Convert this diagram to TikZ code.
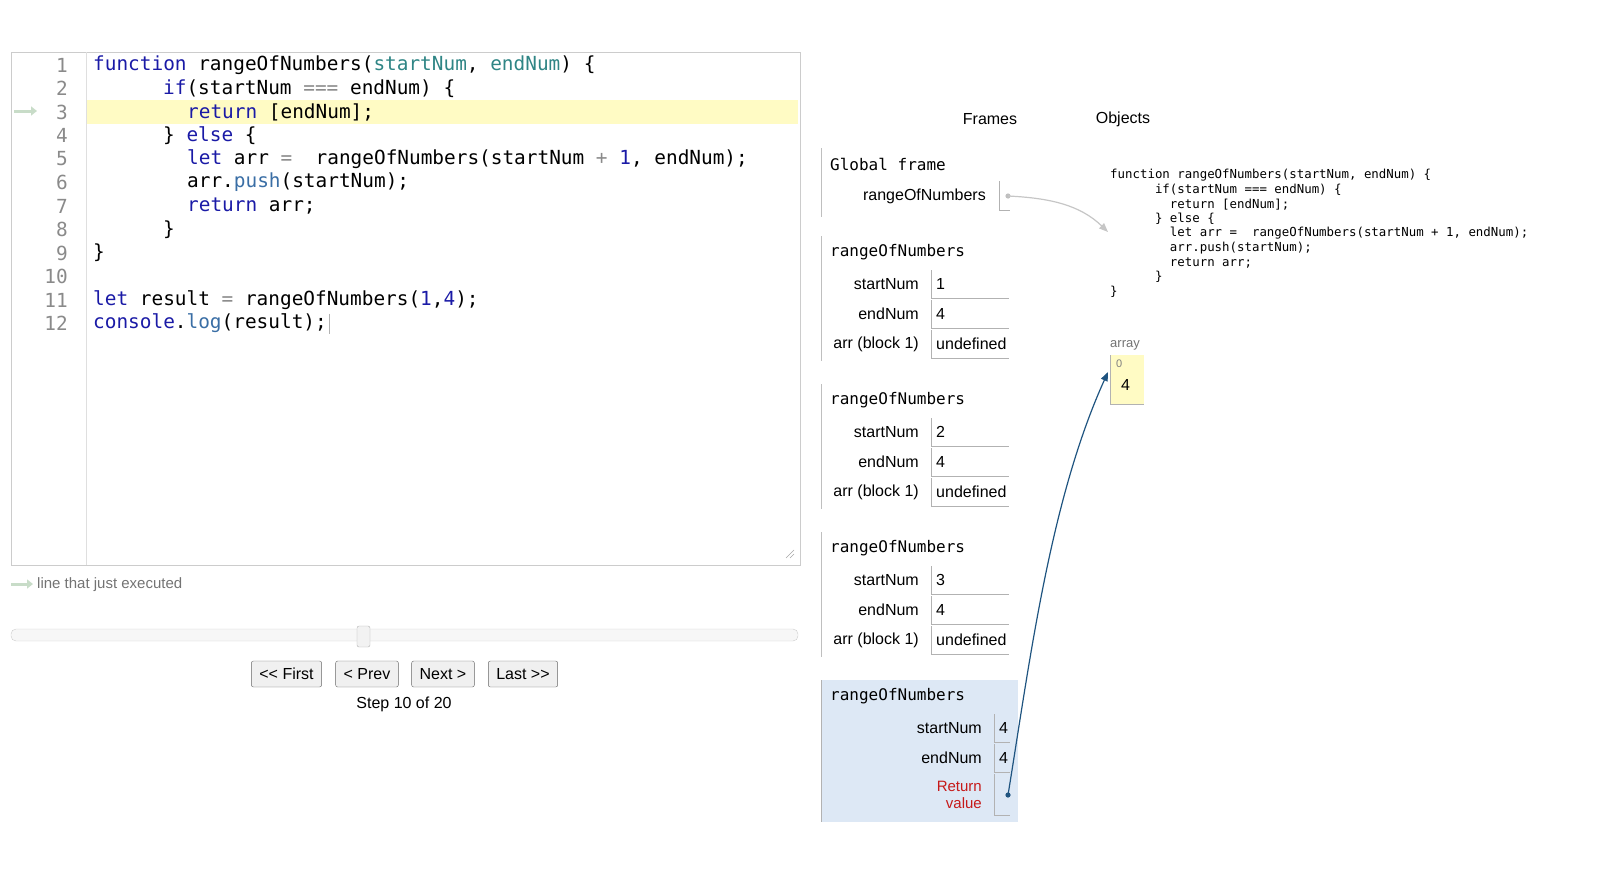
\documentclass[tikz,border=0pt]{standalone}
\usepackage{fontspec}
\setmainfont{Liberation Sans}
\setmonofont{DejaVu Sans Mono}
\usetikzlibrary{positioning,arrows.meta}
\definecolor{kw}{HTML}{1A1AA6}
\definecolor{par}{HTML}{2F8585}
\definecolor{fn}{HTML}{3A6EA5}
\definecolor{op}{HTML}{8A8A8A}
\definecolor{hl}{HTML}{FFFBC4}
\definecolor{fr}{HTML}{DDE8F5}
\definecolor{ptr}{HTML}{1F5480}
\definecolor{arrowgreen}{HTML}{C8DCC8}
\newcommand{\K}[1]{\textcolor{kw}{#1}}
\newcommand{\Op}[1]{\textcolor{op}{#1}}

\begin{document}
\begin{tikzpicture}[x=1pt,y=-1pt,
  codeln/.style={anchor=west,inner sep=0,font=\fontsize{19.4}{20}\ttfamily},
  lnum/.style={anchor=east,inner sep=0,text=op,font=\fontsize{19.4}{20}\ttfamily},
  objln/.style={anchor=west,inner sep=0,font=\fontsize{12.4}{13}\ttfamily},
  lbl/.style={anchor=east,inner sep=0,font=\fontsize{16}{18}\selectfont},
  val/.style={anchor=west,inner sep=0,font=\fontsize{16}{18}\selectfont},
  ttl/.style={anchor=west,inner sep=0,font=\fontsize{16}{18}\ttfamily},
  btn/.style={draw=gray!80!black,fill=gray!12,rounded corners=2pt,minimum height=26pt,inner xsep=8pt,font=\fontsize{16}{18}\selectfont}]
\useasboundingbox (0,0) rectangle (1608,873);

% code editor
\draw[gray!40] (11,52) rectangle (800,565);
\fill[hl] (86,100) rectangle (798,124);
\draw[gray!25] (86,52) -- (86,565);
\foreach \i in {1,...,12} {
  \node[lnum] (n\i) at (68,{65+(\i-1)*23.5}) {\i};
}
\draw[arrowgreen,line width=3pt,-{Triangle[length=6pt,width=9pt]}] (14,111) -- (37,111);
\node[codeln] (c1) at (93,65) {\K{function} rangeOfNumbers(\textcolor{par}{startNum}, \textcolor{par}{endNum}) \{};
\node[codeln] (c2) at (163,88.5) {\K{if}(startNum \Op{===} endNum) \{};
\node[codeln] (c3) at (187,112) {\K{return} [endNum];};
\node[codeln] (c4) at (163,135.5) {\} \K{else} \{};
\node[codeln] (c5) at (187,159) {\K{let} arr \Op{=}\ \ rangeOfNumbers(startNum \Op{+} \K{1}, endNum);};
\node[codeln] (c6) at (187,182.5) {arr.\textcolor{fn}{push}(startNum);};
\node[codeln] (c7) at (187,206) {\K{return} arr;};
\node[codeln] (c8) at (163,229.5) {\}};
\node[codeln] (c9) at (93,253) {\}};
\node[codeln] (c11) at (93,300) {\K{let} result \Op{=} rangeOfNumbers(\K{1},\K{4});};
\node[codeln] (c12) at (93,323.5) {\K{console}.\textcolor{fn}{log}(result);};
\draw[gray!60] (c12.east) ++(2,-10) -- ++(0,20);
\draw[gray!70] (786,558) -- (794,550) (790,558) -- (794,554);

% legend, slider, buttons
\draw[arrowgreen,line width=3pt,-{Triangle[length=6pt,width=9pt]}] (11,584) -- (33,584);
\node[val,text=gray!90!black,font=\fontsize{15}{17}\selectfont] (legend) at (37,585) {line that just executed};
\draw[gray!40,fill=gray!6,rounded corners=5pt] (11,629) rectangle (798,641);
\draw[gray!60,fill=gray!10,rounded corners=2pt] (357,626) rectangle (370,647);
\node[btn] (first) at (286.5,674) {{<}{<} First};
\node[btn] (prev) at (367,674) {< Prev};
\node[btn] (next) at (443,674) {Next >};
\node[btn] (last) at (523,674) {Last {>}{>}};
\node[font=\fontsize{16}{18}\selectfont] (step) at (404,704) {Step 10 of 20};

% headers
\node[font=\fontsize{16}{18}\selectfont] (frames) at (990,119) {Frames};
\node[font=\fontsize{16}{18}\selectfont] (objects) at (1123,119) {Objects};

% global frame
\draw[gray!50] (821,148) -- (821,217);
\node[ttl] (gf) at (830,164) {Global frame};
\node[lbl] (gfn) at (986,196) {rangeOfNumbers};
\draw[gray!60] (999,181) -- (999,210) -- (1010,210);
\fill[gray!50] (1008,196) circle (2.6pt) coordinate (gdot);
\coordinate (funtip) at (1108,232);
\draw[gray!45,line width=1.2pt,-{Triangle[length=9pt,width=7pt]}] (gdot) .. controls (1050,198) and (1080,205) .. (funtip);

% call frames
\foreach \y/\s in {236/1,384/2,532/3} {
  \draw[gray!50] (821,\y) -- (821,\y+125);
  \node[ttl] at (830,\y+16) {rangeOfNumbers};
  \foreach \r/\l/\v in {48/startNum/\s,78/endNum/4,108/arr (block 1)/undefined} {
    \node[lbl] at (919,\y+\r) {\l};
    \draw[gray!60] (931,\y+\r-14) -- (931,\y+\r+14) -- (1009,\y+\r+14);
    \node[val] at (936,\y+\r) {\v};
  }
}

% active frame
\fill[fr] (821,680) rectangle (1018,822);
\draw[gray!60] (821,680) -- (821,822);
\node[ttl] (af) at (830,696) {rangeOfNumbers};
\node[lbl] (as) at (982,728) {startNum};
\node[lbl] (ae) at (982,758) {endNum};
\node[lbl,align=right,text=red!75!black!90,font=\fontsize{15}{17}\selectfont] (ar) at (982,795) {Return\\value};
\foreach \r/\v in {728/4,758/4} {
  \draw[gray!60] (994,\r-14) -- (994,\r+14) -- (1010,\r+14);
  \node[val] at (999,\r) {\v};
}
\draw[gray!60] (994,774) -- (994,815) -- (1010,815);
\fill[ptr] (1008,795) circle (2.6pt) coordinate (rdot);

% objects
\foreach \i/\t in {1/{function rangeOfNumbers(startNum, endNum) \{},
  2/{\ \ \ \ \ \ if(startNum === endNum) \{},
  3/{\ \ \ \ \ \ \ \ return [endNum];},
  4/{\ \ \ \ \ \ \} else \{},
  5/{\ \ \ \ \ \ \ \ let arr =\ \ rangeOfNumbers(startNum + 1, endNum);},
  6/{\ \ \ \ \ \ \ \ arr.push(startNum);},
  7/{\ \ \ \ \ \ \ \ return arr;},
  8/{\ \ \ \ \ \ \}},
  9/{\}}} {
  \node[objln] (o\i) at (1110,{175+(\i-1)*14.6}) {\t};
}
\node[val,text=gray!90!black,font=\fontsize{13}{15}\selectfont] (arrlbl) at (1110,345) {array};
\fill[hl] (1110,355) rectangle (1144,404);
\draw[gray!60] (1110,355) -- (1110,404) -- (1144,404);
\node[val,text=gray,font=\fontsize{11}{12}\selectfont] (idx) at (1116,364) {0};
\node[val] (elt) at (1121,385) {4};
\coordinate (arrtip) at (1108,372);
\draw[ptr,line width=1.2pt,-{Triangle[length=9pt,width=7pt]}] (rdot) .. controls (1030,660) and (1050,500) .. (arrtip);
\end{tikzpicture}
\end{document}
